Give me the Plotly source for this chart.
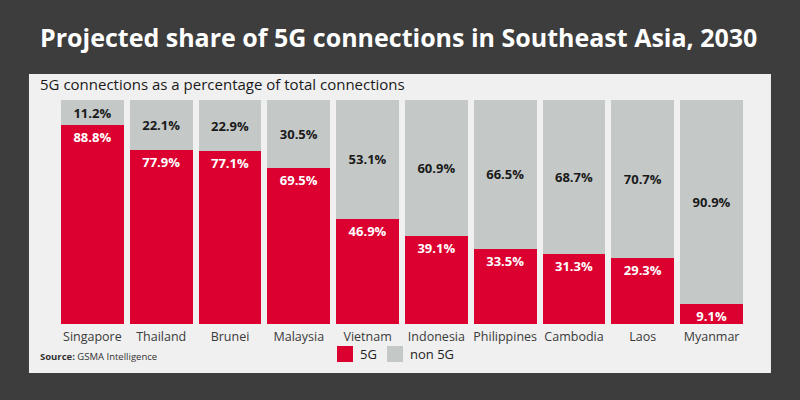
import plotly.graph_objects as go

# data
countries = ["Singapore", "Thailand", "Brunei", "Malaysia", "Vietnam",
             "Indonesia", "Philippines", "Cambodia", "Laos", "Myanmar"]
share_5g = [88.8, 77.9, 77.1, 69.5, 46.9, 39.1, 33.5, 31.3, 29.3, 9.1]
share_non_5g = [11.2, 22.1, 22.9, 30.5, 53.1, 60.9, 66.5, 68.7, 70.7, 90.9]
series_names = ["5G", "non 5G"]

RED = "#dc0030"
GREY = "#c4c9c8"
FONT = "Open Sans"

fig = go.Figure()
fig.add_trace(go.Bar(
    x=countries, y=share_5g, name=series_names[0],
    marker=dict(color=RED, line=dict(width=0)),
    texttemplate="%{y:.1f}%", textposition="inside", insidetextanchor="end",
    textangle=0, constraintext="none",
    textfont=dict(color="white", size=13, family=FONT, weight="bold"),
))
fig.add_trace(go.Bar(
    x=countries, y=share_non_5g, name=series_names[1],
    marker=dict(color=GREY, line=dict(width=0)),
    texttemplate="%{y:.1f}%", textposition="inside", insidetextanchor="middle",
    textangle=0, constraintext="none",
    textfont=dict(color="#1a1a1a", size=13, family=FONT, weight="bold"),
))

# light panel behind the chart
fig.add_shape(type="rect", xref="paper", yref="paper",
              x0=-0.0422, x1=1.0363, y0=-0.21875, y1=1.116,
              fillcolor="#f0f0f0", line=dict(width=0), layer="below")

fig.add_annotation(text="5G connections as a percentage of total connections",
                   xref="paper", yref="paper", x=-0.029, y=1.071,
                   xanchor="left", yanchor="middle", showarrow=False,
                   font=dict(size=15, color="#1a1a1a", family=FONT, weight=500))
fig.add_annotation(text="<b>Source:</b> GSMA Intelligence",
                   xref="paper", yref="paper", x=-0.029, y=-0.147,
                   xanchor="left", yanchor="middle", showarrow=False,
                   font=dict(size=9.5, color="#333333", family=FONT))

# legend drawn by hand: square swatch + label
legend_items = [(series_names[0], RED, 0.4055), (series_names[1], GREY, 0.4782)]
for label, colour, x0 in legend_items:
    fig.add_shape(type="rect", xref="paper", yref="paper",
                  x0=x0, x1=x0 + 0.0233, y0=-0.1696, y1=-0.0982,
                  fillcolor=colour, line=dict(width=0))
    fig.add_annotation(text=label, xref="paper", yref="paper",
                       x=x0 + 0.0305, y=-0.134, xanchor="left", yanchor="middle",
                       showarrow=False,
                       font=dict(size=13, color="#222222", family=FONT))

fig.update_layout(
    width=800, height=400,
    barmode="stack", bargap=0.087,
    paper_bgcolor="#3c3d3c", plot_bgcolor="rgba(0,0,0,0)",
    margin=dict(l=58, r=54, t=100, b=76),
    title=dict(text="<b>Projected share of 5G connections in Southeast Asia, 2030</b>",
               x=0.05, xref="container", xanchor="left",
               y=0.905, yref="container", yanchor="middle",
               font=dict(size=25, color="white", family=FONT)),
    showlegend=False,
    xaxis=dict(showgrid=False, showline=False, ticks="", ticklabelstandoff=3,
               tickfont=dict(size=12.5, color="#3a3a3a", family=FONT)),
    yaxis=dict(range=[0, 100], visible=False),
)

fig.write_html("out.html", config={"displayModeBar": False},
               post_script="document.body.style.margin='0';")
